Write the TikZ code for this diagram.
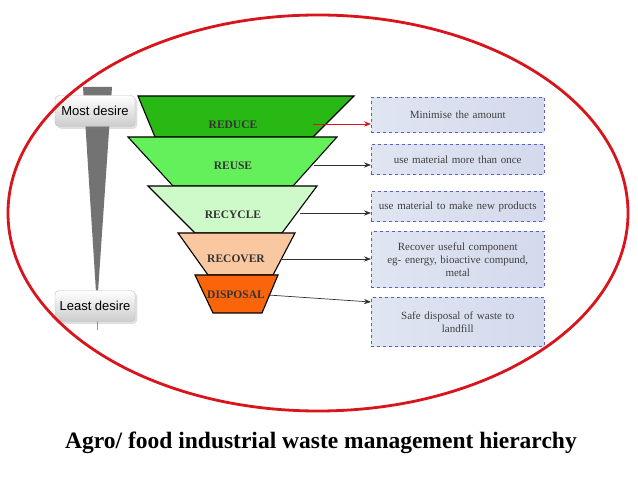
\documentclass[tikz,border=0pt]{standalone}
\usepackage{fontspec}
\setmainfont{Liberation Serif}
\newfontfamily\sansf{Liberation Sans}
\usetikzlibrary{arrows.meta,shadows}
\definecolor{redline}{HTML}{D8141C}
\definecolor{boxfill}{HTML}{D3DAEC}
\definecolor{boxdash}{HTML}{5A5FC8}
\tikzset{
  tier/.style={draw=black,line width=1.1pt},
  tierlab/.style={font=\bfseries\fontsize{11.5}{13}\selectfont,text=black!80},
  infobox/.style={draw=boxdash,dashed,line width=0.8pt,left color=boxfill!70!white,right color=boxfill,minimum width=172pt,text width=166pt,anchor=north west,align=center,font=\fontsize{11}{13}\selectfont,text=black!75},
  tag/.style={draw=black!25,rounded corners=4pt,top color=white,bottom color=black!20,minimum width=80pt,minimum height=31pt,font=\sansf\fontsize{13}{15}\selectfont,drop shadow={opacity=0.25}},
  conn/.style={-{Stealth[length=7pt]},line width=0.7pt,black!80}
}
\begin{document}
\begin{tikzpicture}[x=1pt,y=-1pt]
\useasboundingbox (0,0) rectangle (638,478);
\fill[white] (0,0) rectangle (638,478);
% gray bar
\fill[black!55] (83,87) -- (112,87) -- (98,292) -- (96,292) -- cycle;
\draw[black!40,line width=0.6pt] (97,292) -- (97,330);
% tags
\node[tag] (most) at (95,111) {Most desire};
\node[tag] (least) at (95,306) {Least desire};
% tiers
\filldraw[tier,fill={rgb,255:red,40;green,185;blue,20}] (138,96) -- (354,96) -- (313,137) -- (155,137) -- cycle;
\filldraw[tier,fill={rgb,255:red,100;green,240;blue,90}] (128,137) -- (337,137) -- (293,186) -- (173,186) -- cycle;
\filldraw[tier,fill={rgb,255:red,205;green,250;blue,200}] (148,186) -- (317,186) -- (282,233) -- (195,233) -- cycle;
\filldraw[tier,fill={rgb,255:red,250;green,200;blue,160}] (178,233) -- (295,233) -- (273,275) -- (208,275) -- cycle;
\filldraw[tier,fill={rgb,255:red,250;green,100;blue,10}] (195,275) -- (278,275) -- (262,313) -- (213,313) -- cycle;
\node[tierlab] (t1) at (233,125) {REDUCE};
\node[tierlab] (t2) at (233,166) {REUSE};
\node[tierlab] (t3) at (233,215) {RECYCLE};
\node[tierlab] (t4) at (236,259) {RECOVER};
\node[tierlab] (t5) at (236,295) {DISPOSAL};
\coordinate (s1) at (313,124);
\coordinate (s2) at (314,165);
\coordinate (s3) at (300,213);
\coordinate (s4) at (282,259);
\coordinate (s5) at (268,295);
% info boxes
\node[infobox,minimum height=35pt] (b1) at (371,97) {Minimise the amount};
\node[infobox,minimum height=30pt] (b2) at (371,144) {use material more than once};
\node[infobox,minimum height=30pt] (b3) at (371,191) {use material to make new products};
\node[infobox,minimum height=56pt] (b4) at (371,231) {Recover useful component\\eg- energy, bioactive compund,\\metal};
\node[infobox,minimum height=49pt] (b5) at (371,297) {Safe disposal of waste to\\landfill};
\draw[conn,redline] (s1) -- (b1.west|-s1);
\draw[conn] (s2) -- (b2.west|-s2);
\draw[conn] (s3) -- (b3.west|-s3);
\draw[conn] (s4) -- (b4.west|-s4);
\draw[conn] (s5) -- (371,302);
% ellipse
\draw[redline,line width=2.8pt] (318,213) ellipse [x radius=310, y radius=198];
% caption
\node[font=\bfseries\fontsize{23.5}{26}\selectfont] (cap) at (321,443) {Agro/ food industrial waste management hierarchy};
\end{tikzpicture}
\end{document}
